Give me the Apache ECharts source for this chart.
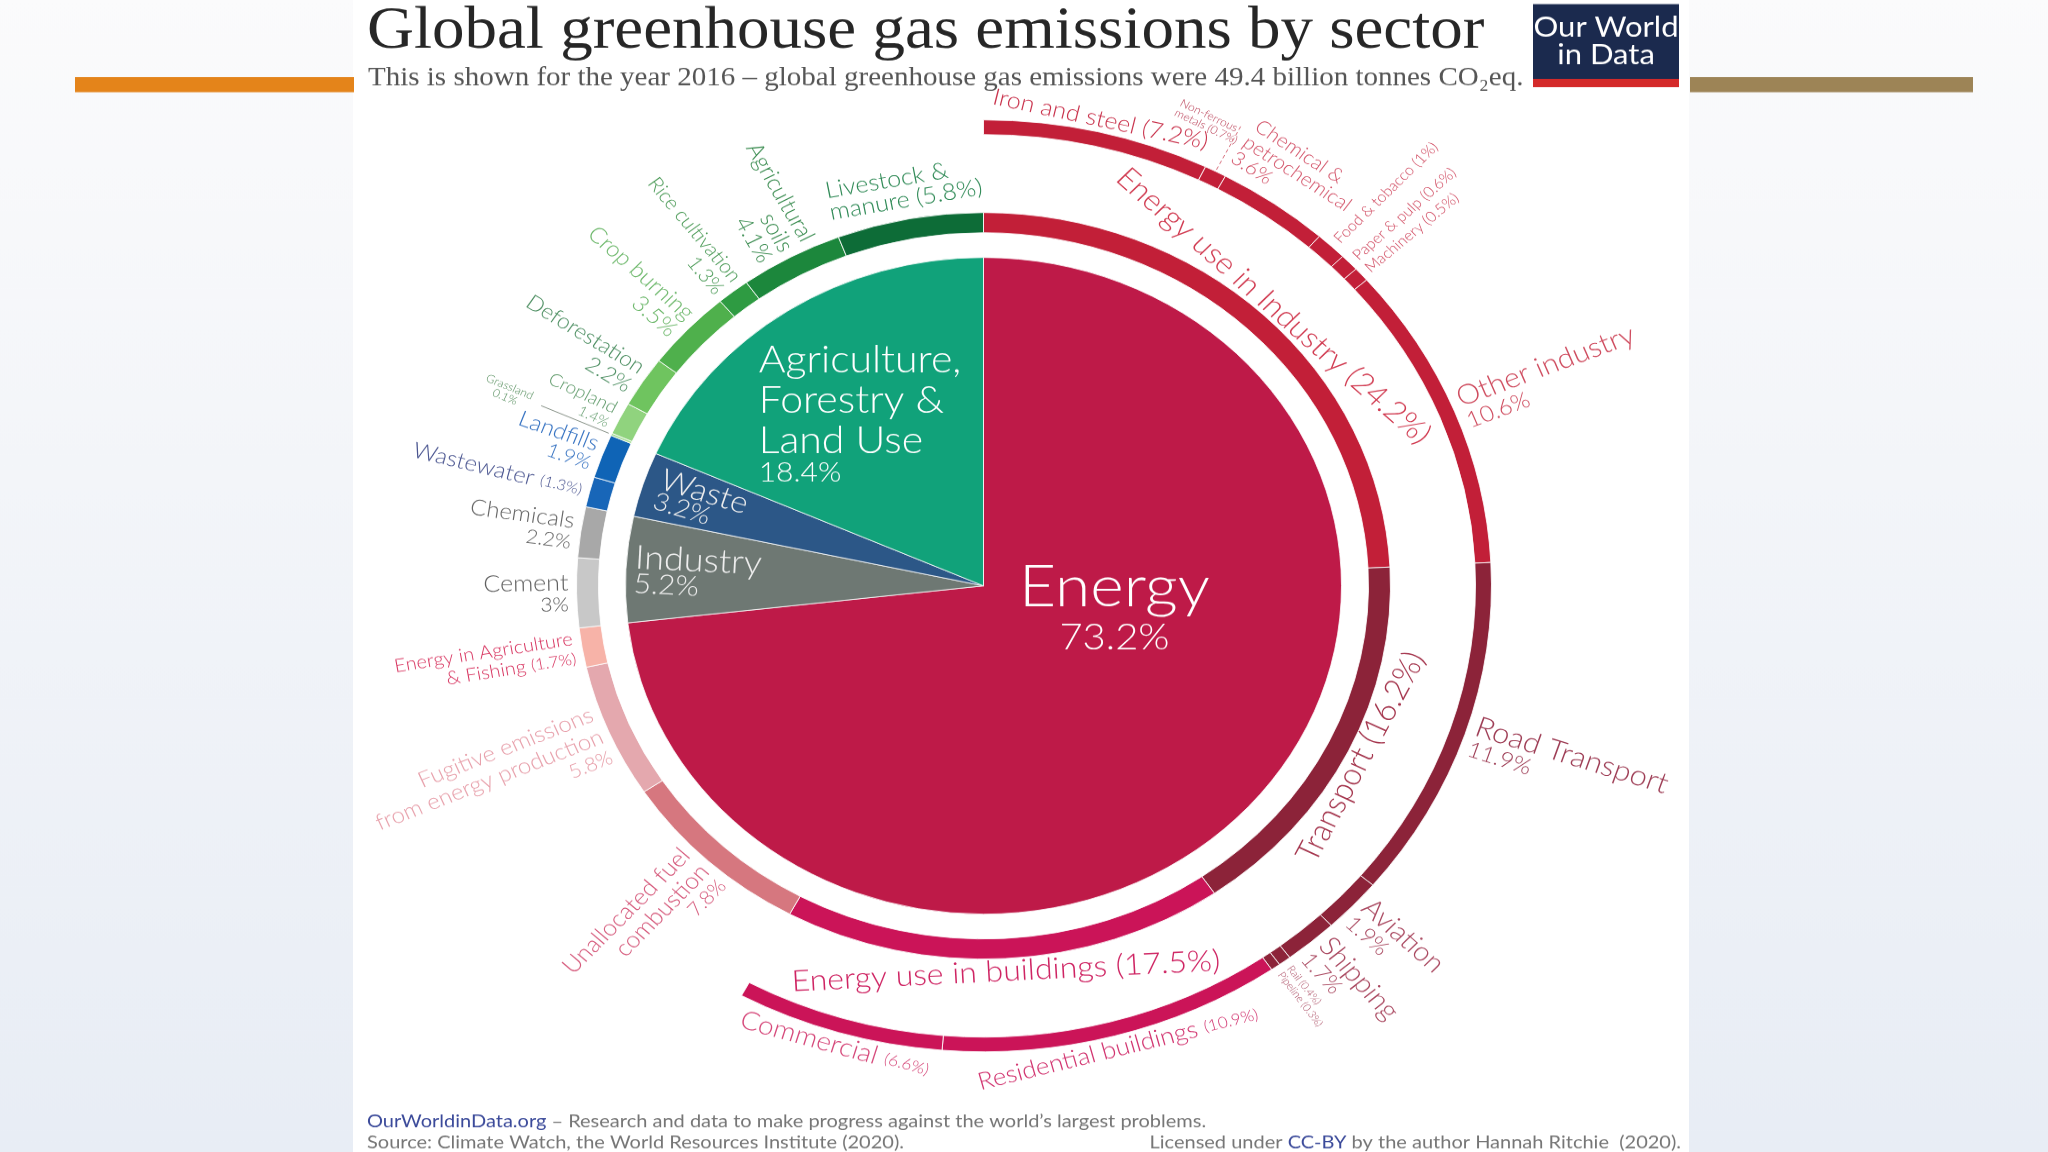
<!DOCTYPE html>
<html>
<head>
<meta charset="utf-8">
<script src="https://cdn.jsdelivr.net/npm/echarts@6/dist/echarts.min.js"></script>
<style>
html,body{margin:0;padding:0;width:2048px;height:1152px;overflow:hidden;background:#fff;}
#wrap{width:2048px;height:1152px;overflow:hidden;}
#chart{width:2048px;height:1256px;transform:scaleY(0.917197);transform-origin:0 0;}
</style>
</head>
<body>
<div id="wrap"><div id="chart"></div></div>
<script>
// ---------------- DATA (percent of global GHG emissions, 2016) ----------------
const sectorNames = ['Energy', 'Industry', 'Waste', 'Agriculture, Forestry & Land Use'];
const sectorValues = [73.2, 5.2, 3.2, 18.4];

const energyNames = ['Energy use in Industry', 'Transport', 'Energy use in buildings',
  'Unallocated fuel combustion', 'Fugitive emissions from energy production', 'Energy in Agriculture & Fishing'];
const energyValues = [24.2, 16.2, 17.5, 7.8, 5.8, 1.7];

const industryNames = ['Cement', 'Chemicals'];
const industryValues = [3, 2.2];

const wasteNames = ['Wastewater', 'Landfills'];
const wasteValues = [1.3, 1.9];

const agriNames = ['Grassland', 'Cropland', 'Deforestation', 'Crop burning', 'Rice cultivation', 'Agricultural soils', 'Livestock & manure'];
const agriValues = [0.1, 1.4, 2.2, 3.5, 1.3, 4.1, 5.8];

const energyIndustryNames = ['Iron and steel', 'Non-ferrous metals', 'Chemical & petrochemical', 'Food & tobacco', 'Paper & pulp', 'Machinery', 'Other industry'];
const energyIndustryValues = [7.2, 0.7, 3.6, 1, 0.6, 0.5, 10.6];

const transportNames = ['Road Transport', 'Aviation', 'Shipping', 'Rail', 'Pipeline'];
const transportValues = [11.9, 1.9, 1.7, 0.4, 0.3];

const buildingNames = ['Residential buildings', 'Commercial'];
const buildingValues = [10.9, 6.6];

// ---------------- STYLE ----------------
const FONT = 'Lato, "Noto Sans", sans-serif';
const SERIF = '"Liberation Serif", "DejaVu Serif", serif';
const CENTER = [983.5, 638.7];
const R_PIE = [0, 358];
const R_MID = [385, 407];
const R_OUT = [492, 508];

const COLORS = {
  'Energy': '#be1a48', 'Industry': '#6e7873', 'Waste': '#2c5787', 'Agriculture, Forestry & Land Use': '#11a27a',
  'Energy use in Industry': '#c21f38', 'Transport': '#8c2339', 'Energy use in buildings': '#cb1458',
  'Unallocated fuel combustion': '#d6777f', 'Fugitive emissions from energy production': '#e4a8ae',
  'Energy in Agriculture & Fishing': '#f7b3a8',
  'Cement': '#c8c8c8', 'Chemicals': '#a8a8a8', 'Wastewater': '#1866b8', 'Landfills': '#0f64b6',
  'Grassland': '#a3dc92', 'Cropland': '#90d37e', 'Deforestation': '#6fc45f', 'Crop burning': '#4fb04c',
  'Rice cultivation': '#2e9b42', 'Agricultural soils': '#1c873c', 'Livestock & manure': '#0d6c37'
};
energyIndustryNames.forEach(n => COLORS[n] = COLORS['Energy use in Industry']);
transportNames.forEach(n => COLORS[n] = COLORS['Transport']);
buildingNames.forEach(n => COLORS[n] = COLORS['Energy use in buildings']);

// label templates: '@' = value, [ ] = smaller text
const LABELS = {
  'Energy': {t: 'Energy\n[@]', s: 64, ps: 40, c: '#ffffff', lh: 1.05},
  'Agriculture, Forestry & Land Use': {t: 'Agriculture,\nForestry &\nLand Use\n[@]', s: 41, ps: 30, c: '#ffffff', lh: 1.07, qlh: 25, left: true},
  'Industry': {t: 'Industry\n[@]', s: 36, ps: 30, c: '#eeeeee', lh: 0.85, left: true},
  'Waste': {t: 'Waste\n[@]', s: 33, ps: 27, c: '#eeeeee', lh: 0.82, left: true},

  'Unallocated fuel combustion': {t: 'Unallocated fuel\ncombustion\n[@]', s: 25, ps: 21, c: '#d65a7c', lh: 1.05},
  'Fugitive emissions from energy production': {t: 'Fugitive emissions\nfrom energy production\n[@]', s: 24, ps: 21, c: '#e8a0ab', lh: 1.08},
  'Energy in Agriculture & Fishing': {t: 'Energy in Agriculture\n& Fishing [(@)]', s: 20, ps: 17, c: '#d8335f', lh: 1.1},
  'Cement': {t: 'Cement\n[@]', s: 25, ps: 21, c: '#606060', lh: 1.05},
  'Chemicals': {t: 'Chemicals\n[@]', s: 24, ps: 21, c: '#666666', lh: 1.05},
  'Wastewater': {t: 'Wastewater [(@)]', s: 24, ps: 16, c: '#4a5590'},
  'Landfills': {t: 'Landfills\n[@]', s: 24, ps: 21, c: '#3572c2', lh: 1.0},
  'Grassland': {t: 'Grassland\n@', s: 12, c: '#4f8a57', lh: 1.0},
  'Cropland': {t: 'Cropland\n[@]', s: 19, ps: 15, c: '#5f9a6a', lh: 1.05},
  'Deforestation': {t: 'Deforestation\n@', s: 23, c: '#4d8f62', lh: 1.05},
  'Crop burning': {t: 'Crop burning\n@', s: 24, c: '#6db86b', lh: 1.05},
  'Rice cultivation': {t: 'Rice cultivation\n@', s: 21, c: '#4a9a56', lh: 1.05},
  'Agricultural soils': {t: 'Agricultural\nsoils\n@', s: 24, c: '#3a8c50', lh: 1.0},

  'Food & tobacco': {t: 'Food & tobacco (@)', s: 16, c: '#d0475e'},
  'Paper & pulp': {t: 'Paper & pulp (@)', s: 16, c: '#d0475e'},
  'Machinery': {t: 'Machinery (@)', s: 16, c: '#d0475e'},
  'Other industry': {t: 'Other industry\n[@]', s: 30, ps: 24, c: '#cf4b5e', lh: 1.0},
  'Road Transport': {t: 'Road Transport\n[@]', s: 31, ps: 24, c: '#9e3d55', lh: 0.95},
  'Aviation': {t: 'Aviation\n[@]', s: 29, ps: 23, c: '#a9475f', lh: 0.95},
  'Shipping': {t: 'Shipping\n[@]', s: 29, ps: 23, c: '#a9475f', lh: 0.95},
  'Rail': {t: 'Rail (@)', s: 11, c: '#a9475f'},
  'Pipeline': {t: 'Pipeline (@)', s: 11, c: '#a9475f'},

  'Energy use in Industry': {t: 'Energy use in Industry (@)', s: 32, c: '#d13a50'},
  'Transport': {t: 'Transport (@)', s: 33, c: '#a4344c'},
  'Energy use in buildings': {t: 'Energy use in buildings (@)', s: 32, c: '#cf2463'},
  'Livestock & manure': {t: 'Livestock &\nmanure (@)', s: 25, c: '#2f8a56', left: true, lh: 0.95},
  'Iron and steel': {t: 'Iron and steel (@)', s: 25, c: '#c9314b'},
  'Residential buildings': {t: 'Residential buildings [(@)]', s: 26, ps: 17, c: '#d2336f'},
  'Commercial': {t: 'Commercial [(@)]', s: 28, ps: 17, c: '#d6487a'},
  'Chemical & petrochemical': {t: 'Chemical &\npetrochemical\n@', s: 21, c: '#d35268', left: true, lh: 1.0},
  'Non-ferrous metals': {t: 'Non-ferrous\nmetals (@)', s: 12, c: '#b83a52', left: true, lh: 1.0}
};

// which labels sit where
const MID_OUTSIDE = ['Unallocated fuel combustion', 'Fugitive emissions from energy production', 'Energy in Agriculture & Fishing',
  'Cement', 'Chemicals', 'Wastewater', 'Landfills', 'Cropland', 'Deforestation', 'Crop burning',
  'Rice cultivation', 'Agricultural soils'];
const OUT_OUTSIDE = ['Food & tobacco', 'Paper & pulp', 'Machinery', 'Other industry', 'Road Transport', 'Aviation', 'Shipping', 'Rail', 'Pipeline'];
// labels that are moved off their sector's mid-angle (polar: radius px, degrees clockwise from 12 o'clock)
const LABEL_POLAR = {
  'Energy': {r: 133, angle: 100},
  'Non-ferrous metals': {r: 554, angle: 24}
};
// leader lines for tiny slices (radial, at the slice's mid-angle)
const LEADERS = [
  {ring: 'middle', name: 'Grassland', r0: 410, r1: 484, color: '#8a948a', dash: null},
  {ring: 'outer', name: 'Non-ferrous metals', r0: 510, r1: 566, color: '#d8707e', dash: [4, 3]}
];

// ---------------- BUILD ----------------
function fmt(tpl, v) {
  const pct = v + '%';
  return tpl.split('\n').map(line => {
    let out = '', last = 0, m;
    const re = /\[([^\]]*)\]/g;
    while ((m = re.exec(line))) {
      if (m.index > last) out += '{m|' + line.slice(last, m.index) + '}';
      out += '{q|' + m[1] + '}';
      last = re.lastIndex;
    }
    if (last < line.length) out += '{m|' + line.slice(last) + '}';
    return out;
  }).join('\n').replace(/@/g, pct);
}

function makeLabel(name, value) {
  const sp = LABELS[name];
  const lh = sp.lh || 1.18;
  const base = {fontFamily: FONT, fontWeight: 300, color: sp.c};
  const m = Object.assign({fontSize: sp.s, lineHeight: Math.round(sp.s * lh)}, base);
  const q = Object.assign({fontSize: sp.ps || sp.s, lineHeight: sp.qlh || Math.round((sp.ps || sp.s) * lh)}, base);
  if (sp.left) { m.align = 'left'; q.align = 'left'; }
  const text = fmt(sp.t, value);
  return {show: true, formatter: () => text, rich: {m: m, q: q}, fontFamily: FONT, fontSize: sp.s, color: sp.c};
}

const middleNames = energyNames.concat(industryNames, wasteNames, agriNames);
const middleValues = energyValues.concat(industryValues, wasteValues, agriValues);
const outerNames = energyIndustryNames.concat(transportNames, buildingNames);
const outerValues = energyIndustryValues.concat(transportValues, buildingValues);
const sum = a => a.reduce((x, y) => x + y, 0);
const outerRest = +(sum(middleValues) - sum(outerValues)).toFixed(2);

function midAngle(names, values, total, name) {
  let acc = 0;
  for (let i = 0; i < names.length; i++) {
    if (names[i] === name) return (acc + values[i] / 2) / total * 360;
    acc += values[i];
  }
  return 0;
}
const RINGS = {
  middle: {names: middleNames, values: middleValues, total: sum(middleValues)},
  outer: {names: outerNames, values: outerValues, total: sum(outerValues) + outerRest}
};

function ringBase(id, radius, z) {
  return {type: 'pie', id: id, radius: radius, center: CENTER, startAngle: 90, clockwise: true,
    avoidLabelOverlap: false, minShowLabelAngle: 0, emphasis: {disabled: true}, z: z, animation: false,
    labelLayout: {hideOverlap: false}};
}

function colorRing(id, radius, names, values, outsideList, restValue) {
  const s = ringBase(id, radius, 2);
  s.itemStyle = {borderColor: 'rgba(255,255,255,0.85)', borderWidth: 1};
  s.label = {show: false, position: 'outside', rotate: 'radial', distanceToLabelLine: 0};
  s.labelLine = {show: false, length: 8, length2: 0};
  s.data = names.map((n, i) => {
    const d = {name: n, value: values[i], itemStyle: {color: COLORS[n]}};
    if (outsideList && outsideList.indexOf(n) >= 0) d.label = makeLabel(n, values[i]);
    return d;
  });
  if (restValue != null) {
    s.data.push({name: 'rest', value: restValue, itemStyle: {color: 'rgba(0,0,0,0)', borderWidth: 0}, label: {show: false}});
  }
  return s;
}

function polarLayout(names) {
  return function (p) {
    const pl = LABEL_POLAR[names[p.dataIndex]];
    if (!pl) return {hideOverlap: false};
    const a = pl.angle * Math.PI / 180;
    return {x: CENTER[0] + pl.r * Math.sin(a), y: CENTER[1] - pl.r * Math.cos(a), hideOverlap: false};
  };
}

function labelRing(id, radius, names, values, show, rotate, restValue) {
  const s = ringBase(id, radius, 5);
  s.silent = true;
  s.itemStyle = {color: 'rgba(0,0,0,0)', borderWidth: 0};
  s.label = {show: false, position: 'inside', rotate: rotate};
  s.labelLine = {show: false};
  s.data = names.map((n, i) => {
    const d = {name: n, value: values[i]};
    if (show.indexOf(n) >= 0) d.label = makeLabel(n, values[i]);
    return d;
  });
  if (restValue != null) s.data.push({name: 'rest', value: restValue});
  if (show.some(n => LABEL_POLAR[n])) s.labelLayout = polarLayout(names);
  return s;
}

const piePie = ringBase('sectors', R_PIE, 2);
piePie.itemStyle = {borderColor: 'rgba(255,255,255,0.8)', borderWidth: 1};
piePie.label = {show: false};
piePie.labelLine = {show: false};
piePie.data = sectorNames.map((n, i) => ({name: n, value: sectorValues[i], itemStyle: {color: COLORS[n]}}));

const series = [
  piePie,
  colorRing('middle', R_MID, middleNames, middleValues, MID_OUTSIDE),
  colorRing('outer', R_OUT, outerNames, outerValues, OUT_OUTSIDE, outerRest),
  labelRing('innerA', [0, 446], sectorNames, sectorValues, ['Energy', 'Agriculture, Forestry & Land Use'], 0),
  labelRing('innerB', [0, 566], sectorNames, sectorValues, ['Industry'], 'radial'),
  labelRing('innerC', [0, 588], sectorNames, sectorValues, ['Waste'], 'radial'),
  labelRing('midG', [486, 550], middleNames, middleValues, ['Grassland'], 'radial'),
  labelRing('midT1', [403, 433], middleNames, middleValues, ['Energy use in Industry', 'Transport', 'Energy use in buildings'], 'tangential'),
  labelRing('midT2', [420, 454], middleNames, middleValues, ['Livestock & manure'], 'tangential'),
  labelRing('outT1', [504, 534], outerNames, outerValues, ['Iron and steel', 'Residential buildings', 'Commercial'], 'tangential', outerRest),
  labelRing('outT2', [528, 562], outerNames, outerValues, ['Chemical & petrochemical', 'Non-ferrous metals'], 'tangential', outerRest)
];

const bgGrad = new echarts.graphic.LinearGradient(0, 0, 0, 1, [
  {offset: 0, color: '#fbfbfc'}, {offset: 1, color: '#e8edf5'}
]);

function txt(x, y, text, st) {
  return {type: 'text', x: x, y: y, z: 20, silent: true,
    style: Object.assign({text: text, align: 'left', verticalAlign: 'middle', textAlign: 'left', textVerticalAlign: 'middle'}, st)};
}
const footRich = {
  b: {fill: '#3b4a9a', color: '#3b4a9a', fontSize: 20, fontFamily: FONT},
  g: {fill: '#767676', color: '#767676', fontSize: 20, fontFamily: FONT}
};

const leaderLines = LEADERS.map(l => {
  const ring = RINGS[l.ring];
  const a = midAngle(ring.names, ring.values, ring.total, l.name) * Math.PI / 180;
  return {type: 'line', z: 30, silent: true,
    shape: {x1: CENTER[0] + l.r0 * Math.sin(a), y1: CENTER[1] - l.r0 * Math.cos(a),
            x2: CENTER[0] + l.r1 * Math.sin(a), y2: CENTER[1] - l.r1 * Math.cos(a)},
    style: {stroke: l.color, lineWidth: 1, lineDash: l.dash}};
});

const graphic = [
  {type: 'rect', z: -20, silent: true, shape: {x: 0, y: 0, width: 2048, height: 1256}, style: {fill: bgGrad}},
  {type: 'rect', z: -19, silent: true, shape: {x: 353, y: 0, width: 1336, height: 1256}, style: {fill: '#ffffff'}},
  {type: 'rect', z: -18, silent: true, shape: {x: 75, y: 84, width: 279, height: 16.4}, style: {fill: '#e4841a'}},
  {type: 'rect', z: -18, silent: true, shape: {x: 1690, y: 84, width: 283, height: 16.4}, style: {fill: '#9d8456'}},
  {type: 'rect', z: -18, silent: true, shape: {x: 1533, y: 4.4, width: 146, height: 90.5}, style: {fill: '#1b2a4e'}},
  {type: 'rect', z: -17, silent: true, shape: {x: 1533, y: 86, width: 146, height: 9}, style: {fill: '#d42a2a'}},
  txt(1606, 30, 'Our World', {fill: '#ffffff', fontSize: 31, fontFamily: FONT, align: 'center', textAlign: 'center'}),
  txt(1606, 60, 'in Data', {fill: '#ffffff', fontSize: 31, fontFamily: FONT, align: 'center', textAlign: 'center'}),
  txt(367, 35, 'Global greenhouse gas emissions by sector', {fill: '#262626', fontSize: 65, fontFamily: SERIF}),
  txt(368, 85, 'This is shown for the year 2016 \u2013 global greenhouse gas emissions were 49.4 billion tonnes CO\u2082eq.', {fill: '#555555', fontSize: 29, fontFamily: SERIF}),
  txt(367, 1223, '{b|OurWorldinData.org}{g| \u2013 Research and data to make progress against the world\u2019s largest problems.}', {rich: footRich}),
  txt(367, 1246, '{g|Source: Climate Watch, the World Resources Institute (2020).}', {rich: footRich}),
  txt(1681, 1246, '{g|Licensed under }{b|CC-BY}{g| by the author Hannah Ritchie  (2020).}', {align: 'right', textAlign: 'right', rich: footRich})
].concat(leaderLines);

const chart = echarts.init(document.getElementById('chart'), null, {renderer: 'canvas', width: 2048, height: 1256});
chart.setOption({animation: false, graphic: {elements: graphic}, series: series});
</script>
</body>
</html>
